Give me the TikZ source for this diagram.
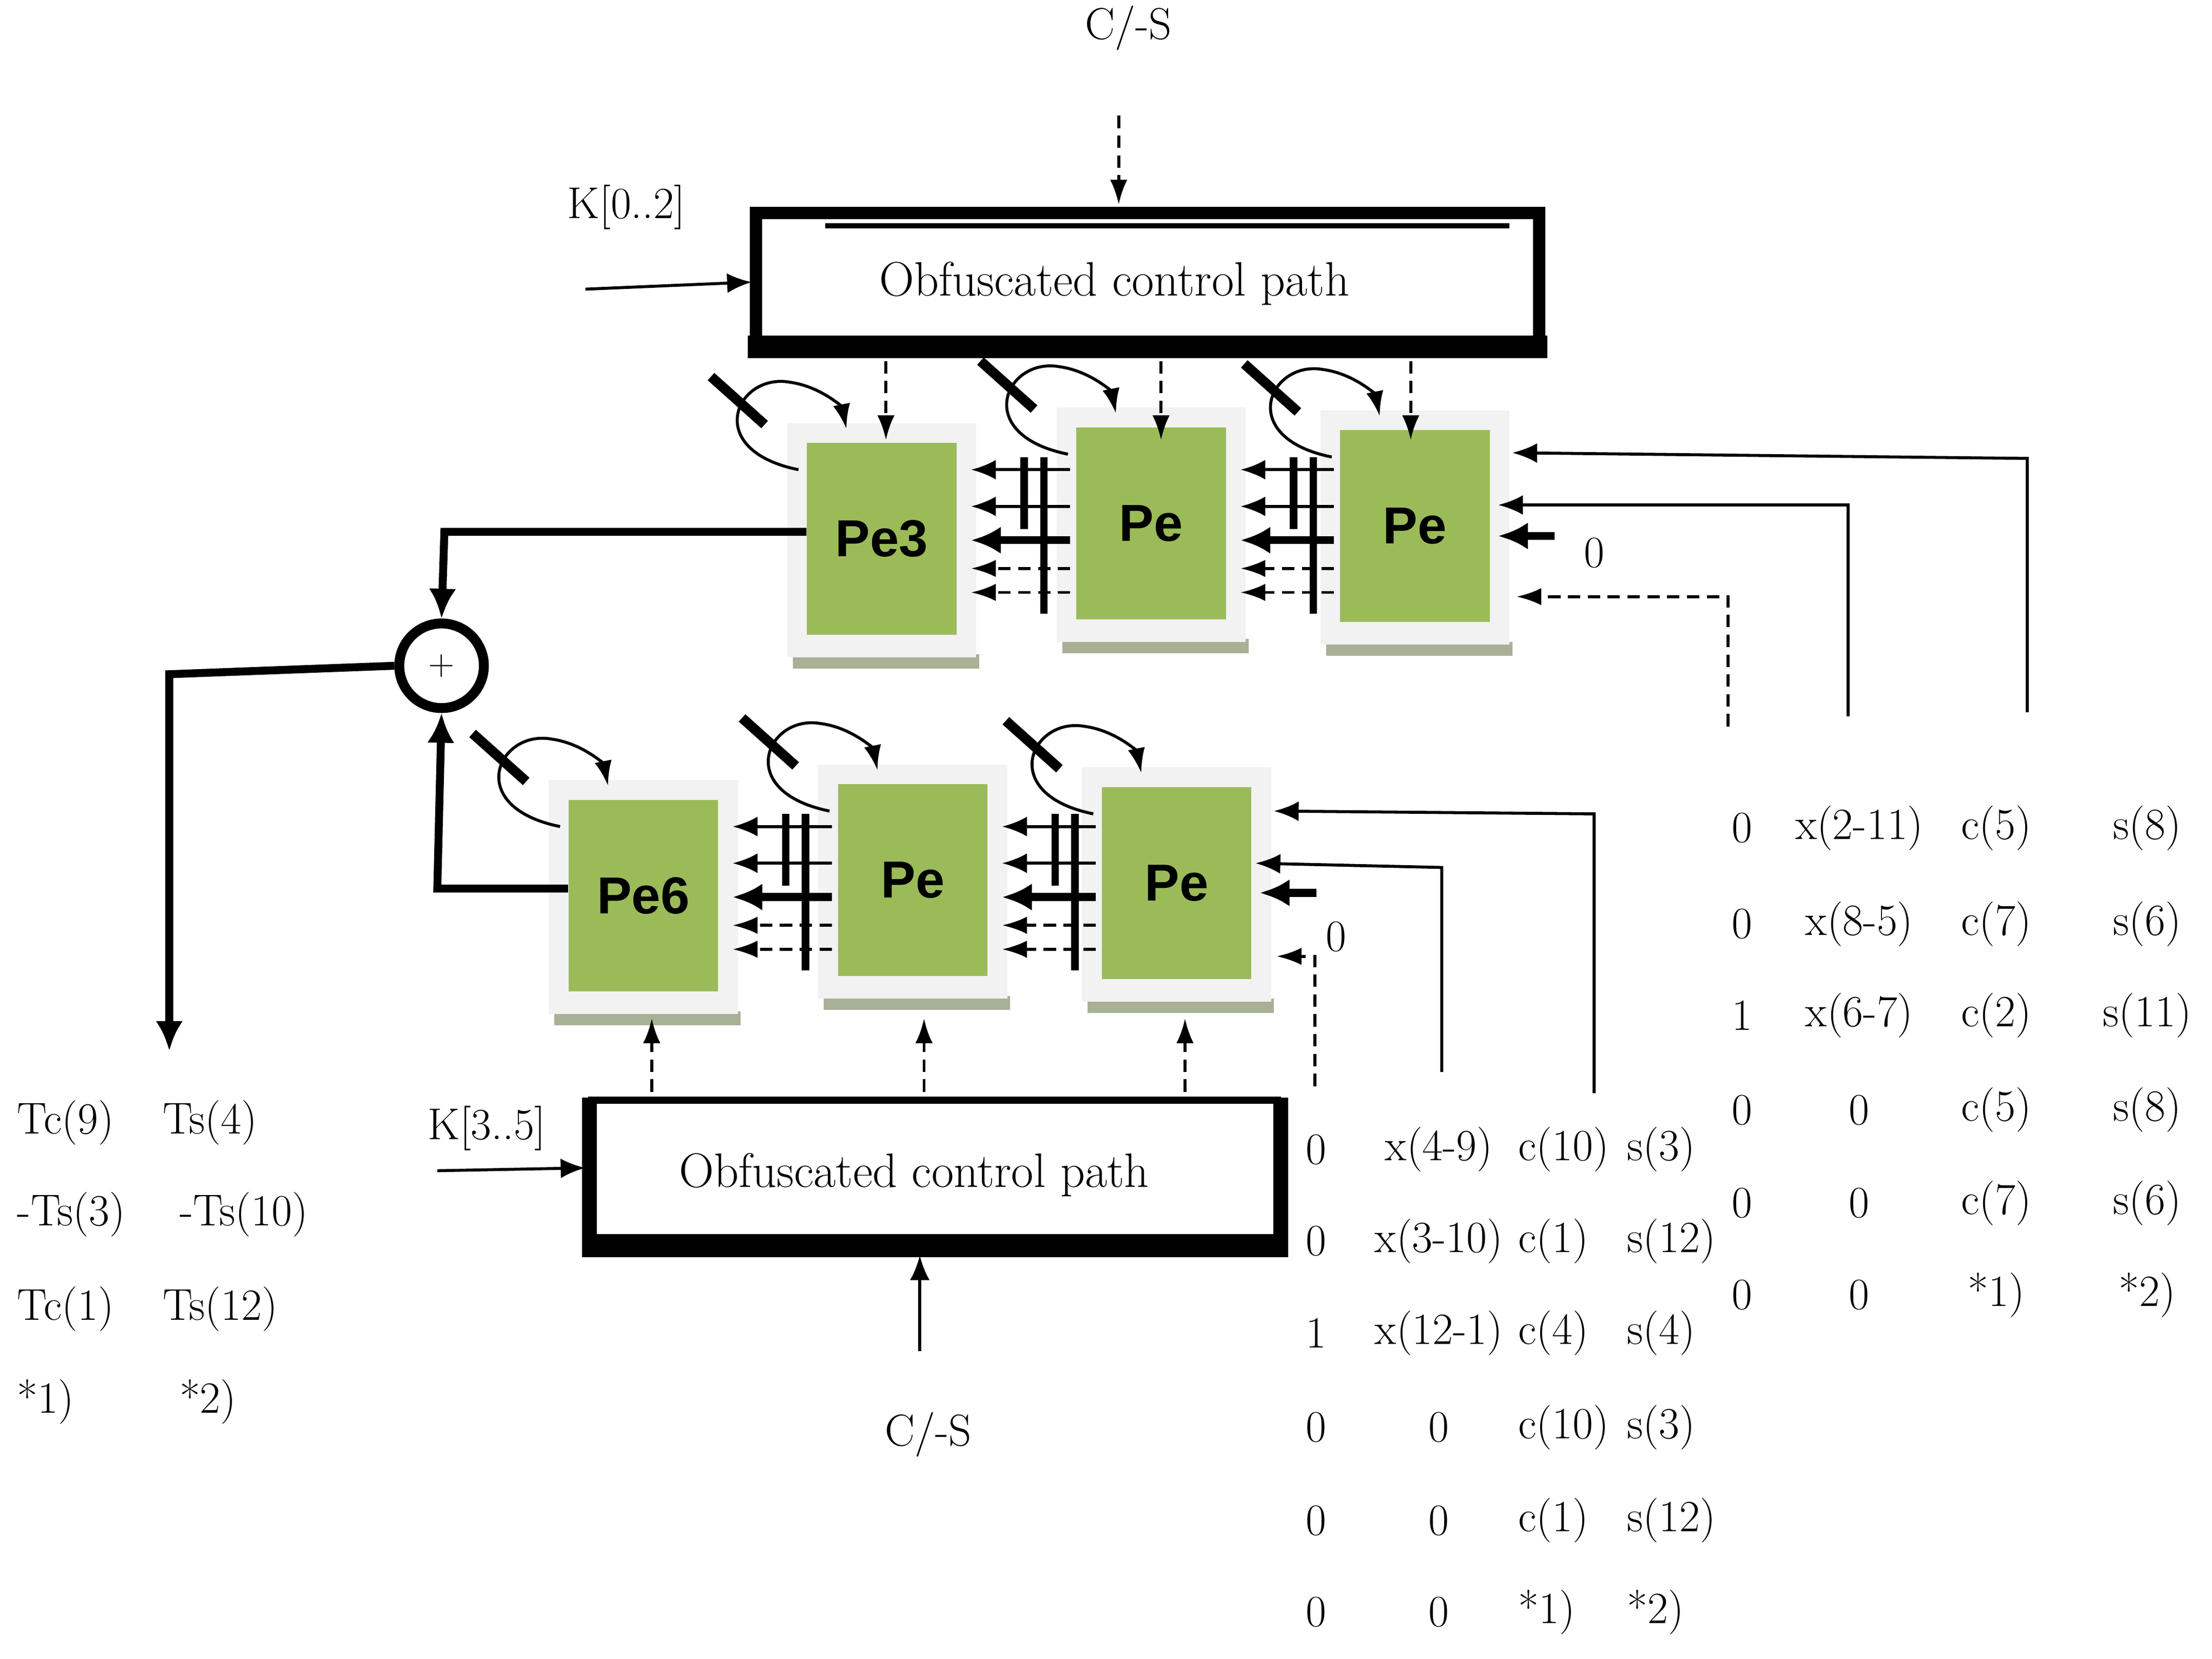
\documentclass[tikz,border=0pt]{standalone}
\usepackage{fontspec}
\newfontfamily\pefont{Liberation Sans}
\usetikzlibrary{arrows.meta,calc}
\tikzset{
  wire/.style={line width=1.2pt,-{Latex[length=10pt,width=8pt]}},
  thickwire/.style={line width=3.2pt,-{Latex[length=12pt,width=11pt]}},
  ctrl/.style={line width=1.2pt,dash pattern=on 5pt off 3pt,-{Latex[length=10pt,width=7pt]}},
  pebox/.style={minimum width=2.12cm,minimum height=2.72cm,inner sep=0pt,font=\pefont\bfseries\fontsize{21}{24}\selectfont},
  lbl/.style={font=\fontsize{18}{21}\selectfont,inner sep=0pt},
}
\definecolor{pegreen}{RGB}{155,187,89}
\definecolor{peframe}{RGB}{242,242,242}
\definecolor{peshadow}{RGB}{168,176,150}
% one row of three processing elements, #1 = name prefix
\newcommand{\perow}[4]{%
  \foreach \name/\gx/\gy/\txt in {#1a/572/314/#2, #1b/763/303/#3, #1c/950/305/#4} {
    \fill[peshadow] (\gx-10,\gy+150) rectangle (\gx+122,\gy+160);
    \fill[peframe] (\gx-14,\gy-14) rectangle (\gx+120,\gy+152);
    \node[pebox,fill=pegreen] (\name) at (\gx+53,\gy+68) {\txt};
    % self loop with register slash
    \draw[line width=1.2pt,-{Latex[length=10pt,width=7pt]}] (\gx-6,\gy+19) .. controls (\gx-75,\gy+5) and (\gx-50,\gy-50) .. (\gx-12,\gy-43) .. controls (\gx+10,\gy-40) and (\gx+25,\gy-25) .. (\gx+28,\gy-10);
    \draw[line width=4pt] (\gx-68,\gy-47) -- (\gx-30,\gy-13);
  }
  % links between neighbours
  \foreach \left/\right/\bx in {#1a/#1b/726, #1b/#1c/917} {
    \foreach \yy/\st in {333/wire, 359/wire, 383/thickwire, 403/ctrl, 420/ctrl} {
      \draw[\st] (\right.west |- 0,\yy) ++(-4,0) -- ($(\left.east |- 0,\yy)+(10,0)$);
    }
    \draw[line width=3pt] (\bx,324) -- (\bx,375);
    \draw[line width=3pt] (\bx+14,324) -- (\bx+14,435);
  }
}
\begin{document}
\begin{tikzpicture}[x=0.02cm,y=-0.02cm]
  \useasboundingbox (0,0) rectangle (1568,1176);

  % top control path
  \node[lbl] (cstop) at (800,20) {C/-S};
  \node[lbl] (ktop) at (444,147) {K[0..2]};
  \draw[line width=5pt] (536,151) rectangle (1091,247);
  \fill (530,238) rectangle (1097,254);
  \draw[line width=2pt] (585,160) -- (1070,160);
  \node[lbl,font=\fontsize{19.5}{22}\selectfont] (boxtop) at (790,201) {Obfuscated control path};
  \coordinate (cstopin) at (793,82);
  \draw[ctrl] (cstopin) -- (793,145);
  \coordinate (ktopin) at (415,205);
  \draw[wire] (ktopin) -- (533,200);

  \perow{t}{Pe3}{Pe}{Pe}
  \foreach \xx in {628, 823, 1000} {
    \draw[ctrl] (\xx,256) -- (\xx,312);
  }

  % top right inputs
  \draw[wire] (1437,505) -- (1437,325) -- (1072,321);
  \draw[wire] (1310,508) -- (1310,358) -- (1062,358);
  \draw[thickwire] (1102,380) -- (1062,380);
  \node[lbl] (zt) at (1130,392) {0};
  \draw[ctrl] (1225,515) -- (1225,423) -- (1075,423);

  % bottom row
  \begin{scope}[shift={(-169,253)}]
    \perow{b}{Pe6}{Pe}{Pe}
  \end{scope}
  \draw[wire] (1130,775) -- (1130,577) -- (903,575);
  \draw[wire] (1022,760) -- (1022,615) -- (890,612);
  \draw[thickwire] (933,633) -- (893,633);
  \node[lbl] (zb) at (947,664) {0};
  \draw[ctrl] (932,770) -- (932,678) -- (905,678);

  % adder
  \node[circle,draw,line width=4pt,minimum size=1.2cm,inner sep=0pt] (add) at (313,472) {\fontsize{14}{14}\selectfont +};
  \draw[thickwire] (ta.west |- 0,377) -- (315,377) -- (add.north);
  \draw[thickwire] (ba.west |- 0,630) -- (310,630) -- (add.south);
  \coordinate (outp) at (120,745);
  \draw[thickwire] (add.west) -- (120,478) -- (outp);

  % bottom control path
  \draw[line width=3pt] (417,780) -- (908,780);
  \draw[line width=6pt] (418,778) -- (418,886) -- (908,886) -- (908,778);
  \fill (415,875) rectangle (912,890);
  \node[lbl,font=\fontsize{19.5}{22}\selectfont] (boxbot) at (648,833) {Obfuscated control path};
  \node[lbl] (kbot) at (345,800) {K[3..5]};
  \coordinate (kbotin) at (310,830);
  \draw[wire] (kbotin) -- (415,828);
  \node[lbl] (csbot) at (658,1017) {C/-S};
  \draw[wire] (652,958) -- (652,890);
  \foreach \xx in {462, 655, 840} {
    \draw[ctrl] (\xx,774) -- (\xx,722);
  }

  % left table
  \foreach \yy/\ta/\tb [count=\i] in {796/Tc(9)/Ts(4), 861/-Ts(3)/-Ts(10), 928/Tc(1)/Ts(12), 994/*1)/*2)} {
    \node[lbl,anchor=west] (lt\i a) at (12,\yy) {\ta};
    \node[lbl,anchor=west] (lt\i b) at (\ifnum\i=1 115\else\ifnum\i=3 115\else 127\fi\fi,\yy) {\tb};
  }

  % right table
  \foreach \yy/\ca/\cb/\cc/\cd [count=\i] in {587/0/x(2-11)/c(5)/s(8), 655/0/x(8-5)/c(7)/s(6), 720/1/x(6-7)/c(2)/s(11), 787/0/0/c(5)/s(8), 853/0/0/c(7)/s(6), 918/0/0/*1)/*2)} {
    \node[lbl] (rt\i a) at (1235,\yy) {\ca};
    \node[lbl] (rt\i b) at (1318,\yy) {\cb};
    \node[lbl] (rt\i c) at (1415,\yy) {\cc};
    \node[lbl] (rt\i d) at (1522,\yy) {\cd};
  }

  % middle table
  \foreach \yy/\ca/\cb/\cc/\cd [count=\i] in {815/0/x(4-9)/c(10)/s(3), 880/0/x(3-10)/c(1)/s(12), 945/1/x(12-1)/c(4)/s(4), 1012/0/0/c(10)/s(3), 1078/0/0/c(1)/s(12), 1143/0/0/*1)/*2)} {
    \node[lbl] (mt\i a) at (933,\yy) {\ca};
    \node[lbl] (mt\i b) at (1020,\yy) {\cb};
    \node[lbl,anchor=west] (mt\i c) at (1076,\yy) {\cc};
    \node[lbl,anchor=west] (mt\i d) at (1153,\yy) {\cd};
  }
\end{tikzpicture}
\end{document}
